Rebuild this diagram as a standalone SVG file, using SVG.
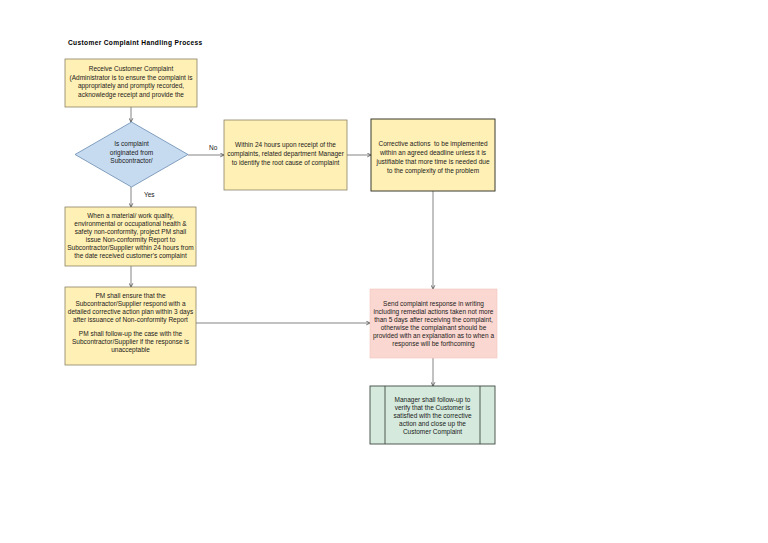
<svg xmlns="http://www.w3.org/2000/svg" width="768" height="543" viewBox="0 0 768 543">
<style>
text{font-family:"Liberation Sans",Arial,sans-serif;font-size:6.5px;fill:#1a1a1a;text-anchor:middle}
.title{font-size:6.6px;font-weight:bold;text-anchor:start;letter-spacing:0.35px;fill:#000}
.lbl{text-anchor:start}
.y{fill:#FFF0B5;stroke:#8A8266;stroke-width:0.8}
.yd{fill:#FFF0B5;stroke:#3A3A30;stroke-width:1}
.d{fill:#C6DAF0;stroke:#6A8CB0;stroke-width:0.8}
.p{fill:#FAD7D0;stroke:#F2C6BE;stroke-width:0.6}
.g{fill:#D5EADD;stroke:#3E4A42;stroke-width:0.9}
.c{stroke:#666;stroke-width:0.8;fill:none;marker-end:url(#ah)}
</style>
<defs>
<marker id="ah" viewBox="0 0 8 8" refX="7" refY="4" markerWidth="5" markerHeight="5" orient="auto" markerUnits="userSpaceOnUse">
<path d="M1,1 L7,4 L1,7" fill="none" stroke="#444" stroke-width="1.2"/>
</marker>
</defs>
<rect width="768" height="543" fill="#fff"/>
<text class="title" x="68" y="45">Customer Complaint Handling Process</text>
<g id="connectors">
<path class="c" d="M131,107 V122"/>
<path class="c" d="M188,155 H224"/>
<path class="c" d="M347,155 H371"/>
<path class="c" d="M131,187 V207"/>
<path class="c" d="M131,266 V287"/>
<path class="c" d="M196,323 H370"/>
<path class="c" d="M433,191 V289"/>
<path class="c" d="M433,358 V386"/>
<text class="lbl" x="209" y="150">No</text>
<text class="lbl" x="144" y="197">Yes</text>
</g>
<g id="receive">
<rect class="y" x="65" y="59" width="132" height="48"/>
<text x="131" y="71">Receive Customer Complaint</text>
<text x="131" y="79.5">(Administrator is to ensure the complaint is</text>
<text x="131" y="88">appropriately and promptly recorded,</text>
<text x="131" y="96.5">acknowledge receipt and provide the</text>
</g>
<g id="decision">
<polygon class="d" points="131.5,122 188,154.5 131.5,187 75,154.5"/>
<text x="131.5" y="146">Is complaint</text>
<text x="131.5" y="154.5">originated from</text>
<text x="131.5" y="163">Subcontractor/</text>
</g>
<g id="root-cause">
<rect class="y" x="224" y="120" width="123" height="70"/>
<text x="285.5" y="147">Within 24 hours upon receipt of the</text>
<text x="285.5" y="156">complaints, related department Manager</text>
<text x="285.5" y="165">to identify the root cause of complaint</text>
</g>
<g id="corrective">
<rect class="yd" x="371" y="119" width="124" height="72"/>
<text x="433" y="146" style="white-space:pre">Corrective actions  to be implemented</text>
<text x="433" y="155">within an agreed deadline unless it is</text>
<text x="433" y="164">justifiable that more time is needed due</text>
<text x="433" y="173">to the complexity of the problem</text>
</g>
<g id="ncr">
<rect class="y" x="65" y="207" width="131" height="59"/>
<text x="130.5" y="218">When a material/ work quality,</text>
<text x="130.5" y="226">environmental or occupational health &amp;</text>
<text x="130.5" y="234">safety non-conformity, project PM shall</text>
<text x="130.5" y="242">issue Non-conformity Report to</text>
<text x="130.5" y="250">Subcontractor/Supplier within 24 hours from</text>
<text x="130.5" y="258">the date received customer's complaint</text>
</g>
<g id="pm-ensure">
<rect class="y" x="65" y="287" width="131" height="78"/>
<text x="130.5" y="298">PM shall ensure that the</text>
<text x="130.5" y="306">Subcontractor/Supplier respond with a</text>
<text x="130.5" y="314">detailed corrective action plan within 3 days</text>
<text x="130.5" y="322">after issuance of Non-conformity Report</text>
<text x="130.5" y="336">PM shall follow-up the case with the</text>
<text x="130.5" y="344">Subcontractor/Supplier if the response is</text>
<text x="130.5" y="352">unacceptable</text>
</g>
<g id="response">
<rect class="p" x="370" y="289" width="127" height="69"/>
<text x="433.5" y="306">Send complaint response in writing</text>
<text x="433.5" y="314">including remedial actions taken not more</text>
<text x="433.5" y="322">than 5 days after receiving the complaint,</text>
<text x="433.5" y="330">otherwise the complainant should be</text>
<text x="433.5" y="338">provided with an explanation as to when a</text>
<text x="433.5" y="346">response will be forthcoming</text>
</g>
<g id="follow-up">
<rect class="g" x="370" y="386" width="125" height="58"/>
<line x1="385" y1="386" x2="385" y2="444" stroke="#3E4A42" stroke-width="0.9"/>
<line x1="480" y1="386" x2="480" y2="444" stroke="#3E4A42" stroke-width="0.9"/>
<text x="432.5" y="402">Manager shall follow-up to</text>
<text x="432.5" y="410">verify that the Customer is</text>
<text x="432.5" y="418">satisfied with the corrective</text>
<text x="432.5" y="426">action and close up the</text>
<text x="432.5" y="434">Customer Complaint</text>
</g>
</svg>
